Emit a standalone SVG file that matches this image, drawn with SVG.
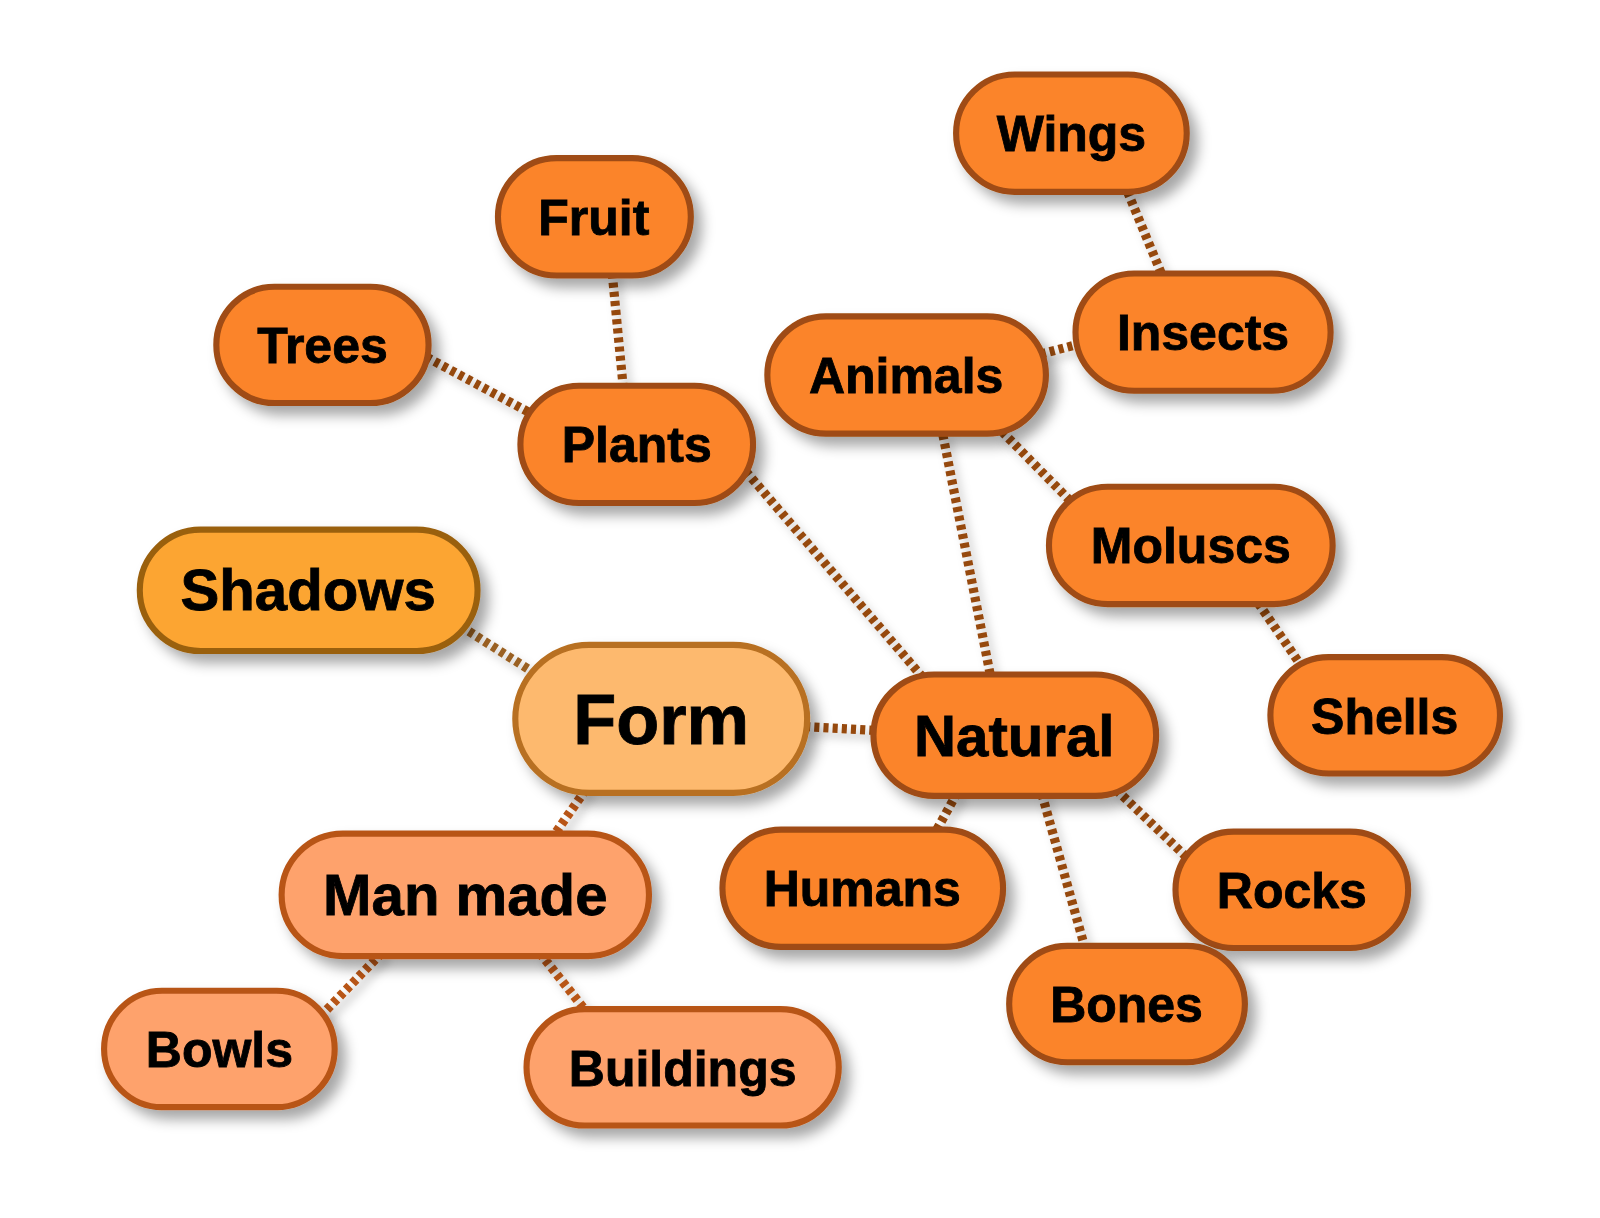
<svg xmlns="http://www.w3.org/2000/svg" width="1600" height="1218" viewBox="0 0 1600 1218">
<defs>
<filter id="sh" x="-20%" y="-30%" width="150%" height="170%">
<feDropShadow dx="8" dy="9" stdDeviation="6" flood-color="#000" flood-opacity="0.35"/>
</filter>
<filter id="lsh" x="-20%" y="-20%" width="140%" height="140%">
<feDropShadow dx="5" dy="6" stdDeviation="4" flood-color="#000" flood-opacity="0.25"/>
</filter>
</defs>
<style>
.c{stroke:#96480f;stroke-width:9;stroke-dasharray:5 4;fill:none}
.cm{stroke:#b85514}
.cs{stroke:#9a6020}
.n{fill:#fb842a;stroke:#9f4c12;stroke-width:6}
.t{font-family:"Liberation Sans",Arial,sans-serif;font-weight:bold;fill:#000;stroke:#000;stroke-width:0.8;text-anchor:middle}
.s49{font-size:49px}
.s57{font-size:57px}
</style>
<rect width="1600" height="1218" fill="#fff"/>
<g transform="scale(1.0204)">
<g id="connectors" filter="url(#lsh)">
<line class="c" x1="1105" y1="188" x2="1139" y2="270"/>
<line class="c" x1="1020" y1="347" x2="1058" y2="337"/>
<line class="c" x1="982" y1="423" x2="1052" y2="494"/>
<line class="c" x1="924" y1="426" x2="971" y2="664"/>
<line class="c" x1="600" y1="268" x2="611" y2="382"/>
<line class="c" x1="418" y1="350" x2="522" y2="406"/>
<line class="c" x1="731" y1="462" x2="907" y2="667"/>
<line class="c" x1="1233" y1="591" x2="1277" y2="655"/>
<line class="c cs" x1="452" y1="614" x2="526" y2="661"/>
<line class="c" x1="789" y1="712" x2="860" y2="716"/>
<line class="c cm" x1="574" y1="774" x2="541" y2="821"/>
<line class="c" x1="938" y1="777" x2="917" y2="815"/>
<line class="c" x1="1021" y1="778" x2="1063" y2="928"/>
<line class="c" x1="1094" y1="774" x2="1166" y2="843"/>
<line class="c cm" x1="374" y1="934" x2="313" y2="997"/>
<line class="c cm" x1="529" y1="934" x2="576" y2="993"/>
</g>
<g id="wings" filter="url(#sh)"><rect class="n" x="937" y="73" width="226" height="115" rx="57.5"/><text class="t s49" x="1050" y="148">Wings</text></g>
<g id="fruit" filter="url(#sh)"><rect class="n" x="488" y="155" width="189" height="115" rx="57.5"/><text class="t s49" x="582" y="230">Fruit</text></g>
<g id="trees" filter="url(#sh)"><rect class="n" x="212" y="281" width="208" height="114" rx="57"/><text class="t s49" x="316" y="356">Trees</text></g>
<g id="insects" filter="url(#sh)"><rect class="n" x="1054" y="268" width="250" height="115" rx="57.5"/><text class="t s49" x="1179" y="343">Insects</text></g>
<g id="animals" filter="url(#sh)"><rect class="n" x="752" y="310" width="273" height="115" rx="57.5"/><text class="t s49" x="888" y="385">Animals</text></g>
<g id="plants" filter="url(#sh)"><rect class="n" x="510" y="378" width="228" height="115" rx="57.5"/><text class="t s49" x="624" y="453">Plants</text></g>
<g id="moluscs" filter="url(#sh)"><rect class="n" x="1028" y="477" width="278" height="115" rx="57.5"/><text class="t s49" x="1167" y="552">Moluscs</text></g>
<g id="shadows" filter="url(#sh)"><rect x="137" y="519" width="331" height="119" rx="59.5" fill="#fca532" stroke="#9a6010" stroke-width="6"/><text class="t s57" x="302" y="598">Shadows</text></g>
<g id="form" filter="url(#sh)"><rect x="505" y="632" width="286" height="145" rx="72.5" fill="#fdb96e" stroke="#b87020" stroke-width="6"/><text class="t" style="font-size:69px" x="648" y="729">Form</text></g>
<g id="natural" filter="url(#sh)"><rect class="n" x="856" y="661" width="277" height="119" rx="59.5"/><text class="t s57" x="994" y="741">Natural</text></g>
<g id="shells" filter="url(#sh)"><rect class="n" x="1245" y="644" width="225" height="114" rx="57"/><text class="t s49" x="1357" y="719">Shells</text></g>
<g id="humans" filter="url(#sh)"><rect class="n" x="708" y="813" width="275" height="115" rx="57.5"/><text class="t s49" x="845" y="888">Humans</text></g>
<g id="rocks" filter="url(#sh)"><rect class="n" x="1152" y="815" width="228" height="114" rx="57"/><text class="t s49" x="1266" y="890">Rocks</text></g>
<g id="manmade" filter="url(#sh)"><rect x="276" y="817" width="360" height="120" rx="60" fill="#fea26c" stroke="#b85518" stroke-width="6"/><text class="t s57" x="456" y="897">Man made</text></g>
<g id="bones" filter="url(#sh)"><rect class="n" x="989" y="927" width="231" height="114" rx="57"/><text class="t s49" x="1104" y="1002">Bones</text></g>
<g id="bowls" filter="url(#sh)"><rect x="102" y="971" width="226" height="114" rx="57" fill="#fea26c" stroke="#b85518" stroke-width="6"/><text class="t s49" x="215" y="1046">Bowls</text></g>
<g id="buildings" filter="url(#sh)"><rect x="516" y="989" width="306" height="114" rx="57" fill="#fea26c" stroke="#b85518" stroke-width="6"/><text class="t s49" x="669" y="1064">Buildings</text></g>
</g>
</svg>
